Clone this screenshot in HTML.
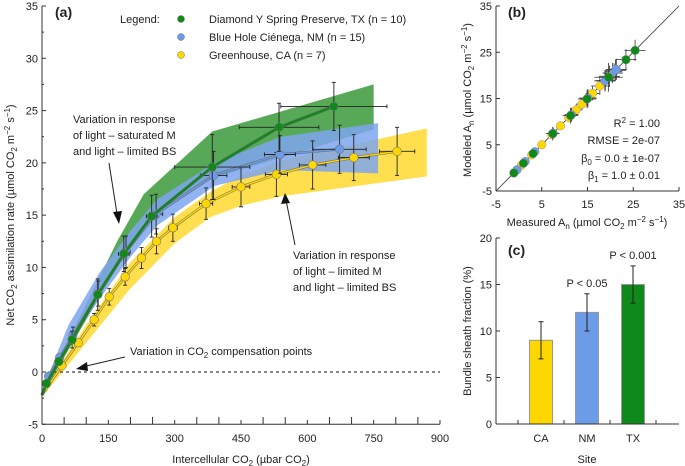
<!DOCTYPE html>
<html><head><meta charset="utf-8"><style>
body{margin:0;background:#fff}
svg{display:block;font-family:"Liberation Sans",Arial,sans-serif}
</style></head><body>
<svg id="fig" width="685" height="466" viewBox="0 0 685 466" xmlns="http://www.w3.org/2000/svg"></svg>
<script>
// ---- data ----
const txCi=[10,38,68,126,185,248,385,536,660];
const txA=[-1.1,1.0,3.1,7.4,11.3,14.9,19.6,23.4,25.4];
const txAerr=[0.3,0.4,0.8,1.5,1.7,2.0,3.1,2.3,2.3];
const txCierr=[0,0,0,8,12,12,85,90,120];
const nmCi=[15,40,70,127,190,258,388,538,673];
const nmA=[-0.4,1.4,3.5,7.5,11.5,15.1,18.8,20.8,21.3];
const nmAerr=[0.3,0.4,0.8,1.2,1.5,1.9,2.3,1.8,2.3];
const nmCierr=[0,0,0,6,10,15,30,35,60];
const caCi=[45,82,118,152,188,225,259,296,371,450,530,612,705,803];
const caA=[0.6,2.8,5.0,7.2,9.1,10.9,12.5,13.8,16.1,17.7,18.9,19.8,20.5,21.1];
const caAerr=[0.3,0.4,0.6,0.8,0.8,1.0,1.2,1.3,1.5,1.9,2.1,2.3,2.2,2.3];
const caCierr=[0,0,0,0,0,0,8,10,15,20,25,30,35,40];
// bands (ci, upper, lower)
const txBandCi=[0,100,170,230,385,750];
const txBandUp=[-2.0,6.5,12.5,17.0,23.0,27.5];
const txBandLo=[-2.2,5.0,10.0,14.2,18.5,23.2];
const nmBandCi=[0,60,130,200,260,390,540,760];
const nmBandUp=[-1.8,4.5,9.5,13.5,16.5,20.0,22.5,23.8];
const nmBandLo=[-2.2,2.5,7.0,11.0,14.0,17.8,19.3,19.0];
const caBandCi=[0,100,200,300,380,450,540,870];
const caBandUp=[-2.0,4.5,10.5,14.8,17.2,18.8,20.2,23.3];
const caBandLo=[-2.4,2.8,8.0,12.3,14.8,15.9,16.8,18.7];
const sites=["CA","NM","TX"];
const bsf=[9,12,15];
const bsfErr=[2,2,2];
const pLabels=["","P < 0.05","P < 0.001"];

const svg=document.getElementById('fig');
const NS='http://www.w3.org/2000/svg';
function el(tag,attrs,parent){const e=document.createElementNS(NS,tag);for(const k in attrs)e.setAttribute(k,attrs[k]);(parent||svg).appendChild(e);return e;}
function txt(s,x,y,attrs,parent){const t=el('text',Object.assign({x:x,y:y,'font-size':11,fill:'#222'},attrs||{}),parent);t.innerHTML=s;return t;}

// ---- panel a scales ----
const ax=v=>42+(v/900)*398;
const ay=v=>424.3-((v+5)/40)*418.3;
const GREEN='#0f8a1a',BLUE='#6c9be8',YEL='#ffd700';

const gA=el('g',{});



function band(ci,up,lo,color,op,name){
  let d='M'+ci.map((c,i)=>ax(c)+','+ay(up[i])).join(' L');
  for(let i=ci.length-1;i>=0;i--)d+=' L'+ax(ci[i])+','+ay(lo[i]);
  const p=el('path',{d:d+'Z',fill:color,opacity:op},gA);
  
  
}
band(caBandCi,caBandUp,caBandLo,'#ffd92e',0.85,'band-ca');
band(txBandCi,txBandUp,txBandLo,'#3a9a3a',0.85,'band-tx');
band(nmBandCi,nmBandUp,nmBandLo,'#7ea6ef',0.85,'band-nm');

// zero line
const z=el('line',{x1:ax(0),x2:ax(900),y1:ay(0),y2:ay(0),stroke:'#111','stroke-dasharray':'3,3','stroke-width':1},gA);



function series(ci,a,aerr,cierr,color,lw,name){
  const g=el('g',{},gA);
  
  
  const pts=[[ax(0),ay(-2.2)]].concat(ci.map((c,i)=>[ax(c),ay(a[i])]));
  el('polyline',{points:pts.map(p=>p.join(',')).join(' '),fill:'none',stroke:'#666','stroke-width':lw+1},g);
  el('polyline',{points:pts.map(p=>p.join(',')).join(' '),fill:'none',stroke:color,'stroke-width':lw},g);
  ci.forEach((c,i)=>{
    const x=ax(c),y=ay(a[i]);
    if(aerr[i]>0.5){const y1=ay(a[i]+aerr[i]),y2=ay(a[i]-aerr[i]);
      el('line',{x1:x,x2:x,y1:y1,y2:y2,stroke:'#222','stroke-width':0.9},g);
      el('line',{x1:x-2,x2:x+2,y1:y1,y2:y1,stroke:'#222','stroke-width':0.9},g);
      el('line',{x1:x-2,x2:x+2,y1:y2,y2:y2,stroke:'#222','stroke-width':0.9},g);}
    if(cierr[i]>0){const x1=ax(c-cierr[i]),x2=ax(c+cierr[i]);
      el('line',{x1:x1,x2:x2,y1:y,y2:y,stroke:'#222','stroke-width':0.9},g);
      el('line',{x1:x1,x2:x1,y1:y-2,y2:y+2,stroke:'#222','stroke-width':0.9},g);
      el('line',{x1:x2,x2:x2,y1:y-2,y2:y+2,stroke:'#222','stroke-width':0.9},g);}
    const m=el('circle',{cx:x,cy:y,r:4.3,fill:color,stroke:'#777','stroke-width':0.6},g);
    
    
  });
}
series(caCi,caA,caAerr,caCierr,YEL,1.5,'ca');
series(nmCi,nmA,nmAerr,nmCierr,BLUE,1.5,'nm');
series(txCi,txA,txAerr,txCierr,GREEN,2.2,'tx');

// axes a
el('line',{x1:42,x2:42,y1:6,y2:424.3,stroke:'#333'},gA);
el('line',{x1:42,x2:440,y1:424.3,y2:424.3,stroke:'#333'},gA);
const yTicksA=[-5,0,5,10,15,20,25,30,35];
yTicksA.forEach(v=>{el('line',{x1:42,x2:46,y1:ay(v),y2:ay(v),stroke:'#333'},gA);
  if(v<35)el('line',{x1:42,x2:44,y1:ay(v+2.5),y2:ay(v+2.5),stroke:'#333'},gA);
  txt(v,38,ay(v)+4,{'text-anchor':'end','font-size':11},gA);});
const xTicksA=[0,150,300,450,600,750,900];
xTicksA.forEach(v=>{el('line',{x1:ax(v),x2:ax(v),y1:424.3,y2:420,stroke:'#333'},gA);
  txt(v,ax(v),442,{'text-anchor':'middle'},gA);});
for(let v=50;v<900;v+=50){if(v%150)el('line',{x1:ax(v),x2:ax(v),y1:424.3,y2:417,stroke:'#333'},gA);}
txt('Intercellular CO<tspan font-size="8" dy="3">2</tspan><tspan dy="-3"> (µbar CO</tspan><tspan font-size="8" dy="3">2</tspan><tspan dy="-3">)</tspan>',241,463,{'text-anchor':'middle'},gA);
txt('Net CO<tspan font-size="8" dy="3">2</tspan><tspan dy="-3"> assimilation rate (µmol CO</tspan><tspan font-size="8" dy="3">2</tspan><tspan dy="-3"> m</tspan><tspan font-size="8" dy="-4">−2</tspan><tspan dy="4"> s</tspan><tspan font-size="8" dy="-4">−1</tspan><tspan dy="4">)</tspan>',0,0,{'text-anchor':'middle',transform:'translate(14,215) rotate(-90)'},gA);
txt('(a)',55,17,{'font-weight':'bold','font-size':14},gA);
// legend
const lg=el('g',{},gA);
txt('Legend:',120,23,{},lg);
[['Diamond Y Spring Preserve, TX (n = 10)',GREEN,19],['Blue Hole Ciénega, NM (n = 15)',BLUE,37],['Greenhouse, CA (n = 7)',YEL,55]].forEach(r=>{
  const c=el('circle',{cx:181,cy:r[2],r:3.5,fill:r[1],stroke:'#777','stroke-width':0.5},lg);
  
  txt(r[0],209,r[2]+4,{},lg);});
// annotations
txt('Variation in response',73,123,{},gA);txt('of light – saturated M',73,139,{},gA);txt('and light – limited BS',73,155,{},gA);
el('line',{x1:109,x2:118,y1:163,y2:220,stroke:'#222'},gA);el('path',{d:'M113,212 L119,224 L122,211Z',fill:'#111'},gA);
txt('Variation in response',293,259,{},gA);txt('of light – limited M',293,275,{},gA);txt('and light – limited BS',293,291,{},gA);
el('line',{x1:295,x2:286,y1:245,y2:200,stroke:'#222'},gA);el('path',{d:'M281,204 L285,193 L290,203Z',fill:'#111'},gA);
txt('Variation in CO<tspan font-size="8" dy="3">2</tspan><tspan dy="-3"> compensation points</tspan>',130,355,{},gA);
el('line',{x1:125,x2:82,y1:357,y2:367,stroke:'#222'},gA);el('path',{d:'M76,369 L87,362 L88,371Z',fill:'#111'},gA);

// ---- panel b ----
const bx=v=>496+((v+5)/40)*183;
const by=v=>191-((v+5)/40)*185;
const gB=el('g',{});
el('line',{x1:bx(-5),y1:by(-5),x2:bx(35),y2:by(35),stroke:'#333','stroke-width':0.8},gB);
function bpts(a,aerr,color,name){a.forEach((v,i)=>{
  if(aerr[i]>1){el('line',{x1:bx(v),x2:bx(v),y1:by(v+aerr[i]),y2:by(v-aerr[i]),stroke:'#333','stroke-width':0.8},gB);
    el('line',{x1:bx(v-aerr[i]),x2:bx(v+aerr[i]),y1:by(v),y2:by(v),stroke:'#333','stroke-width':0.8},gB);}
  const c=el('circle',{cx:bx(v),cy:by(v),r:4.3,fill:color,stroke:'#888','stroke-width':0.4},gB);
  });}
bpts(caA,caAerr,YEL,'ca');bpts(nmA,nmAerr,BLUE,'nm');bpts(txA,txAerr,GREEN,'tx');
el('line',{x1:496,x2:496,y1:6,y2:191,stroke:'#333'},gB);el('line',{x1:496,x2:679,y1:191,y2:191,stroke:'#333'},gB);
const tB=[-5,5,15,25,35];
tB.forEach(v=>{el('line',{x1:496,x2:500,y1:by(v),y2:by(v),stroke:'#333'},gB);txt(v,492,by(v)+4,{'text-anchor':'end'},gB);
  el('line',{x1:bx(v),x2:bx(v),y1:191,y2:187,stroke:'#333'},gB);txt(v,bx(v),208,{'text-anchor':'middle'},gB);});
txt('Measured A<tspan font-size="8" dy="3">n</tspan><tspan dy="-3"> (µmol CO</tspan><tspan font-size="8" dy="3">2</tspan><tspan dy="-3"> m</tspan><tspan font-size="8" dy="-4">−2</tspan><tspan dy="4"> s</tspan><tspan font-size="8" dy="-4">−1</tspan><tspan dy="4">)</tspan>',587,226,{'text-anchor':'middle'},gB);
txt('Modeled A<tspan font-size="8" dy="3">n</tspan><tspan dy="-3"> (µmol CO</tspan><tspan font-size="8" dy="3">2</tspan><tspan dy="-3"> m</tspan><tspan font-size="8" dy="-4">−2</tspan><tspan dy="4"> s</tspan><tspan font-size="8" dy="-4">−1</tspan><tspan dy="4">)</tspan>',0,0,{'text-anchor':'middle',transform:'translate(471,100) rotate(-90)'},gB);
txt('(b)',508,17,{'font-weight':'bold','font-size':14},gB);
txt('R<tspan font-size="8" dy="-4">2</tspan><tspan dy="4"> = 1.00</tspan>',660,127,{'text-anchor':'end'},gB);
txt('RMSE = 2e-07',660,144,{'text-anchor':'end'},gB);
txt('β<tspan font-size="8" dy="3">0</tspan><tspan dy="-3"> = 0.0 ± 1e-07</tspan>',660,162,{'text-anchor':'end'},gB);
txt('β<tspan font-size="8" dy="3">1</tspan><tspan dy="-3"> = 1.0 ± 0.01</tspan>',660,179,{'text-anchor':'end'},gB);

// ---- panel c ----
const cy=v=>424-(v/20)*186;
const cx=i=>541+i*46;
const gC=el('g',{});
const cols=[YEL,BLUE,GREEN];
bsf.forEach((v,i)=>{
  const r=el('rect',{x:cx(i)-11.5,y:cy(v),width:23,height:cy(0)-cy(v),fill:cols[i],stroke:'#999','stroke-width':1},gC);
  
  const t=cy(v+bsfErr[i]),b=cy(v-bsfErr[i]);
  el('line',{x1:cx(i),x2:cx(i),y1:t,y2:b,stroke:'#222'},gC);
  el('line',{x1:cx(i)-2.5,x2:cx(i)+2.5,y1:t,y2:t,stroke:'#222'},gC);el('line',{x1:cx(i)-2.5,x2:cx(i)+2.5,y1:b,y2:b,stroke:'#222'},gC);
  if(pLabels[i])txt(pLabels[i],cx(i),t-7,{'text-anchor':'middle'},gC);
  txt(sites[i],cx(i),442,{'text-anchor':'middle'},gC);
});
el('line',{x1:496,x2:496,y1:238,y2:424,stroke:'#333'},gC);el('line',{x1:496,x2:679,y1:424,y2:424,stroke:'#333'},gC);
[0,5,10,15,20].forEach(v=>{el('line',{x1:496,x2:500,y1:cy(v),y2:cy(v),stroke:'#333'},gC);txt(v,492,cy(v)+4,{'text-anchor':'end'},gC);});
[518,564,610,656].forEach(x=>el('line',{x1:x,x2:x,y1:424,y2:420,stroke:'#333'},gC));
txt('Site',587,463,{'text-anchor':'middle'},gC);
txt('Bundle sheath fraction (%)',0,0,{'text-anchor':'middle',transform:'translate(471,331) rotate(-90)'},gC);
txt('(c)',508,255,{'font-weight':'bold','font-size':14},gC);
</script>
</body></html>
